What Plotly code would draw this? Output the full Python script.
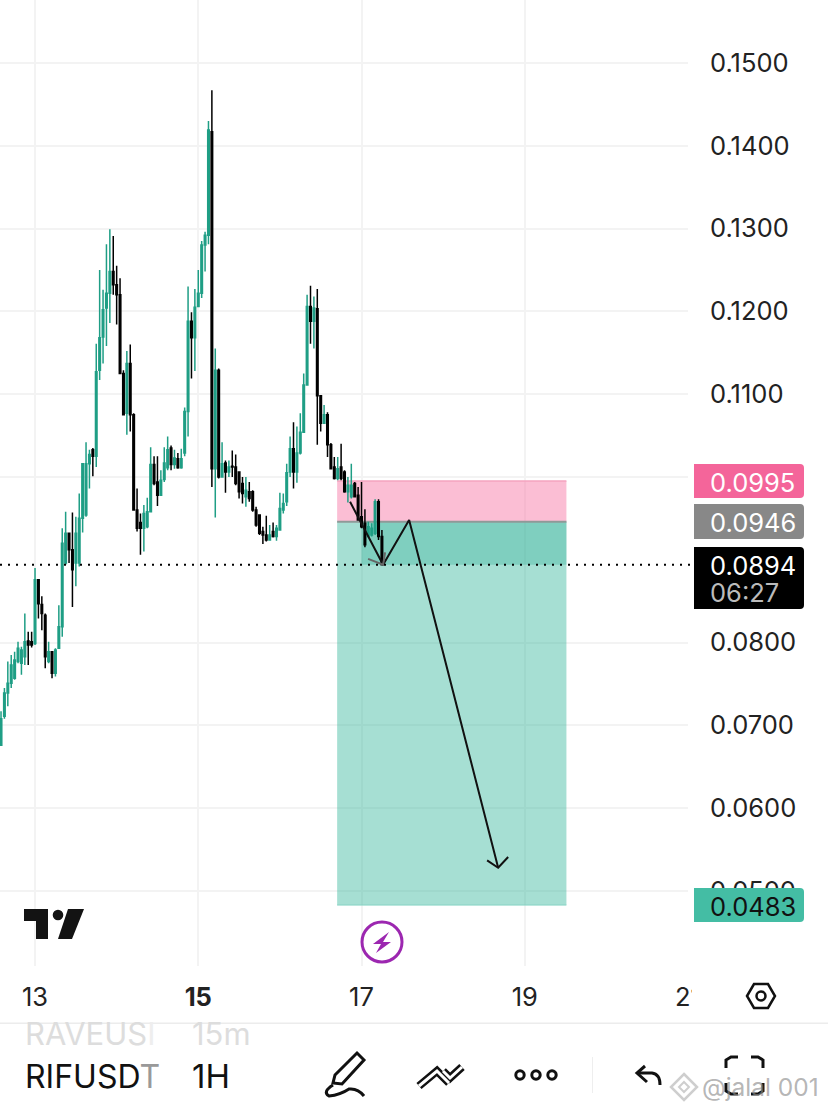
import pandas as pd
import plotly.graph_objects as go

# hourly candles
open_prices = [
    .0676, .0711, .0739, .0751, .0757, .0777, .0775, .0783, .0802, .0801, .0799, .0876, .0846, .0833, .0777, .0789,
    .0763, .0793, .0819, .0896, .0932, .0912, .0896, .0896, .0950, .0954, .1016, .1033, .1025, .1129, .1169, .1204,
    .1222, .1248, .1232, .1220, .1125, .1077, .1137, .1075, .0960, .0945, .0938, .0940, .0958, .1015, .0994, .0978,
    .0997, .1011, .1035, .1015, .1022, .1011, .1029, .1079, .1188, .1168, .1206, .1222, .1280, .1292, .1417, .1010,
    .1129, .1000, .1017, .1006, .1013, .1012, .1006, .0992, .0976, .0982, .0982, .0960, .0954, .0934, .0930, .0924,
    .0934, .0928, .0936, .0960, .0970, .1006, .1034, .1006, .1029, .1054, .1111, .1206, .1188, .1203, .1098, .1065,
    .1075, .1039, .1012, .0998, .1012, .1006, .0982, .0976, .0992, .0978, .0952, .0944, .0928, .0930, .0932, .0970,
    .0928,
]
high_prices = [
    .0717, .0745, .0777, .0785, .0789, .0801, .0795, .0835, .0813, .0813, .0890, .0876, .0856, .0835, .0801, .0789,
    .0793, .0845, .0938, .0958, .0932, .0957, .0952, .0980, .1017, .1042, .1033, .1035, .1161, .1250, .1226, .1281,
    .1299, .1291, .1255, .1240, .1129, .1152, .1160, .1077, .0986, .0956, .0966, .0975, .1036, .1025, .1025, .1008,
    .1036, .1049, .1038, .1033, .1029, .1034, .1084, .1230, .1199, .1227, .1250, .1285, .1296, .1430, .1467, .1155,
    .1131, .1042, .1020, .1020, .1032, .1027, .1006, .1000, .1000, .0994, .0984, .0964, .0955, .0940, .0953, .0942,
    .0945, .0942, .0981, .0980, .1016, .1049, .1066, .1061, .1077, .1125, .1220, .1231, .1218, .1227, .1098, .1087,
    .1078, .1041, .1024, .1024, .1040, .1008, .1000, .1016, .0994, .0988, .0994, .0961, .0946, .0944, .0973, .0973,
    .0936,
]
low_prices = [
    .0676, .0708, .0723, .0745, .0755, .0775, .0761, .0773, .0773, .0794, .0797, .0829, .0815, .0769, .0775, .0757,
    .0759, .0793, .0807, .0894, .0896, .0843, .0868, .0892, .0933, .0952, .0986, .1001, .1012, .1117, .1137, .1158,
    .1186, .1220, .1184, .1125, .1075, .1051, .1055, .0960, .0934, .0906, .0910, .0938, .0958, .0990, .0965, .0978,
    .0994, .1008, .1008, .1010, .1010, .1010, .1025, .1049, .1119, .1128, .1206, .1216, .1248, .1281, .0988, .0951,
    .0998, .1000, .0981, .1000, .1000, .0990, .0974, .0968, .0964, .0970, .0958, .0940, .0930, .0919, .0922, .0924,
    .0927, .0923, .0936, .0956, .0965, .1000, .0986, .0993, .1027, .1054, .1111, .1161, .1155, .1039, .1055, .1065,
    .1024, .1010, .0997, .0996, .0996, .0981, .0969, .0974, .0976, .0948, .0938, .0915, .0928, .0928, .0930, .0924,
    .0894,
]
close_prices = [
    .0708, .0739, .0751, .0773, .0779, .0793, .0791, .0801, .0797, .0797, .0876, .0847, .0835, .0783, .0789, .0763,
    .0791, .0819, .0920, .0932, .0912, .0888, .0932, .0950, .1016, .1016, .1027, .1025, .1127, .1168, .1202, .1222,
    .1248, .1232, .1220, .1125, .1075, .1137, .1075, .0960, .0938, .0938, .0956, .0958, .1015, .0992, .0978, .0996,
    .1017, .1033, .1015, .1023, .1011, .1022, .1079, .1188, .1168, .1205, .1222, .1280, .1292, .1419, .1010, .1129,
    .1000, .1016, .1006, .1012, .1012, .0992, .0982, .0980, .0984, .0974, .0960, .0942, .0932, .0930, .0924, .0930,
    .0928, .0938, .0962, .0968, .1005, .1034, .1006, .1029, .1054, .1111, .1206, .1188, .1204, .1098, .1065, .1075,
    .1039, .1010, .0998, .1010, .0998, .0982, .0990, .0990, .0976, .0948, .0940, .0918, .0940, .0938, .0970, .0928,
    .0894,
]
first_candle = "2025-10-12 14:00"

# 0.09 is not on the scale in the picture, the last price sits there
price_ticks = [.15, .14, .13, .12, .11, .10, .08, .07, .06, .05]
day_ticks = ["2025-10-13", "2025-10-15", "2025-10-17", "2025-10-19", "2025-10-21"]
day_labels = ["13", "<b>15</b>", "17", "19", "21"]

# short position tool
entry, stop, target, last_price = 0.0946, 0.0995, 0.0483, 0.0894
tool_start, tool_split, tool_end = "2025-10-16 16:50", "2025-10-17 00:00", "2025-10-19 12:15"

# hand drawn arrows
path_x = ["2025-10-16 20:38", "2025-10-17 06:21", "2025-10-17 14:00", "2025-10-18 16:11"]
path_y = [0.0970, 0.0894, 0.0948, 0.0528]
head_x = ["2025-10-18 12:56", "2025-10-18 16:11", "2025-10-18 19:07"]
head_y = [0.0537, 0.0528, 0.0541]
small_head_x = ["2025-10-17 01:56", "2025-10-17 06:21", "2025-10-17 06:56"]
small_head_y = [0.0901, 0.0894, 0.0909]

FONT = "Inter"
PLOT_W, PLOT_H = 688, 966


def px(x):
    return x / PLOT_W


def py(y):
    return 1 - y / PLOT_H


def path(points, close=False):
    d = "M" + " L".join(f"{px(x):.5f} {py(y):.5f}" for x, y in points)
    return d + (" Z" if close else "")


def badge(x0, x1, y0, y1, color):
    # square on the left, rounded on the right
    r = 4
    d = (
        f"M{px(x0):.5f} {py(y0):.5f} L{px(x1 - r):.5f} {py(y0):.5f} "
        f"Q{px(x1):.5f} {py(y0):.5f} {px(x1):.5f} {py(y0 + r):.5f} "
        f"L{px(x1):.5f} {py(y1 - r):.5f} "
        f"Q{px(x1):.5f} {py(y1):.5f} {px(x1 - r):.5f} {py(y1):.5f} "
        f"L{px(x0):.5f} {py(y1):.5f} Z"
    )
    return dict(type="path", xref="paper", yref="paper", path=d, fillcolor=color, line_width=0, layer="above")


def stroke(points, color="#111111", width=3, fill=None, close=False):
    return dict(
        type="path", xref="paper", yref="paper", path=path(points, close), layer="above",
        line=dict(color=color, width=width), fillcolor=fill,
    )


def circle(cx, cy, r, color="#111111", width=3, fill=None):
    return dict(
        type="circle", xref="paper", yref="paper", layer="above",
        x0=px(cx - r), x1=px(cx + r), y0=py(cy + r), y1=py(cy - r),
        line=dict(color=color, width=width), fillcolor=fill,
    )


def box(x0, x1, y0, y1, color):
    return dict(
        type="rect", xref="paper", yref="paper", layer="above",
        x0=px(x0), x1=px(x1), y0=py(y1), y1=py(y0), fillcolor=color, line_width=0,
    )


def label(text, x, y, size, color="#111111", xanchor="left"):
    return dict(
        text=text, xref="paper", yref="paper", x=px(x), y=py(y), xanchor=xanchor, yanchor="middle",
        showarrow=False, font=dict(family=FONT, size=size, color=color),
    )


times = pd.date_range(first_candle, periods=len(open_prices), freq="h")

fig = go.Figure()
fig.add_trace(
    go.Candlestick(
        x=times, open=open_prices, high=high_prices, low=low_prices, close=close_prices,
        increasing=dict(line=dict(color="#1f9e85", width=1.5), fillcolor="#1f9e85"),
        decreasing=dict(line=dict(color="#000000", width=1.5), fillcolor="#000000"),
        whiskerwidth=0,
    )
)
for xs, ys, color in [
    (path_x, path_y, "#111111"),
    (head_x, head_y, "#111111"),
    (small_head_x, small_head_y, "#666666"),
]:
    fig.add_trace(go.Scatter(x=xs, y=ys, mode="lines", line=dict(color=color, width=2)))

shapes = [
    # position tool
    dict(type="rect", x0=tool_start, x1=tool_end, y0=entry, y1=stop, layer="between",
         fillcolor="rgba(247,120,165,0.48)", line_width=0),
    dict(type="rect", x0=tool_start, x1=tool_end, y0=target, y1=entry, layer="between",
         fillcolor="rgba(48,180,152,0.43)", line_width=0),
    dict(type="rect", x0=tool_split, x1=tool_end, y0=last_price, y1=entry, layer="between",
         fillcolor="rgba(48,175,150,0.32)", line_width=0),
    dict(type="line", x0=tool_start, x1=tool_end, y0=stop, y1=stop, layer="between",
         line=dict(color="#f4a3bf", width=1.5)),
    dict(type="line", x0=tool_start, x1=tool_end, y0=entry, y1=entry, layer="between",
         line=dict(color="#8f9a98", width=2)),
    dict(type="line", x0=tool_start, x1=tool_end, y0=target, y1=target, layer="between",
         line=dict(color="#86d3c3", width=1)),
    # last price line
    dict(type="line", xref="paper", x0=0, x1=px(694), y0=last_price, y1=last_price, layer="above",
         line=dict(color="#000000", width=2, dash="2px,6px")),
    # covers the end of the clipped 21 label
    box(692, 828, 970, 1020, "#ffffff"),
    badge(694, 804, 464, 498, "#f4659a"),
    badge(694, 804, 504, 539, "#888888"),
    badge(694, 804, 547, 609, "#000000"),
    badge(694, 804, 888, 922, "#44bda4"),
    box(0, 828, 1022.6, 1024, "#ececec"),
    box(592, 593, 1057, 1093, "#eeeeee"),
    # TradingView mark
    stroke([(24, 909), (48, 909), (48, 939), (36, 939), (36, 921), (24, 921)], width=0, fill="#131313", close=True),
    circle(58, 915, 5.3, width=0, fill="#131313"),
    stroke([(68, 909), (84, 909), (72, 939), (58, 939)], width=0, fill="#131313", close=True),
    # purple flash marker
    circle(382, 942, 20, color="#9c27b0", width=3, fill="#ffffff"),
    stroke([(389, 932), (373, 944), (381, 944), (376, 953), (391, 942), (383, 942)], width=0, fill="#9c27b0", close=True),
    # settings hexagon
    stroke([(747, 996), (754, 984), (768, 984), (775, 996), (768, 1008), (754, 1008)], width=2.5, close=True),
    circle(761, 996, 4.5, width=2.5),
    # pen
    stroke([(357, 1053), (364, 1060), (342, 1084), (333, 1083), (335, 1075)], width=3, close=True),
    dict(type="path", xref="paper", yref="paper", layer="above", line=dict(color="#111111", width=3),
         path=f"M{px(333)} {py(1085)} Q{px(322)} {py(1092)} {px(329)} {py(1096)} "
              f"Q{px(340)} {py(1095)} {px(349)} {py(1089)} Q{px(358)} {py(1088)} {px(364)} {py(1096)}"),
    # trend tools icon
    stroke([(419, 1086), (437, 1071), (449, 1083)], width=8),
    stroke([(443, 1071), (450, 1078), (462, 1067)], width=8),
    stroke([(419, 1086), (437, 1071), (449, 1083)], color="#ffffff", width=3),
    stroke([(443, 1071), (450, 1078), (462, 1067)], color="#ffffff", width=3),
    # more
    circle(520, 1075, 4.2), circle(536, 1075, 4.2), circle(552, 1075, 4.2),
    # undo
    stroke([(645, 1066), (637, 1073), (647, 1082)]),
    dict(type="path", xref="paper", yref="paper", layer="above", line=dict(color="#111111", width=3),
         path=f"M{px(637)} {py(1073)} L{px(652)} {py(1073)} Q{px(660)} {py(1074)} {px(660)} {py(1085)}"),
    # fullscreen corners
    stroke([(726, 1068), (726, 1060), (731, 1057), (738, 1057)]),
    stroke([(751, 1057), (758, 1057), (763, 1060), (763, 1068)]),
    stroke([(726, 1083), (726, 1091), (731, 1094), (738, 1094)]),
    stroke([(751, 1094), (758, 1094), (763, 1091), (763, 1083)]),
    # watermark mark
    stroke([(684, 1074), (697, 1087), (684, 1100), (671, 1087)], color="rgba(190,190,190,0.75)", width=2.5, close=True),
    stroke([(684, 1082), (689, 1087), (684, 1092), (679, 1087)], color="rgba(190,190,190,0.75)", width=2, close=True),
]

annotations = [
    label("0.0995", 708, 482, 25.5, "#ffffff"),
    label("0.0946", 708, 522, 25.5, "#ffffff"),
    label("0.0894", 708, 565, 25.5, "#ffffff"),
    label("06:27", 708, 592, 25.5, "#bbbbbb"),
    label("0.0483", 708, 906, 25.5, "#111111"),
    label("RAVEUS<span style='color:#eeeeee'>I</span>", 23, 1033, 31, "#dddddd"),
    label("15m", 190, 1033, 31, "#dddddd"),
    label("RIFUSD<span style='color:#999999'>T</span>", 23, 1076, 32),
    label("1H", 190, 1076, 33),
    label("BTCUSD", 23, 1122, 29, "#dddddd"),
    label("1H", 190, 1122, 29, "#dddddd"),
    label("@jalal 001", 700, 1087, 24.5, "rgba(140,140,140,0.65)"),
]
# white strip clips the top of the faded row, kept just above the divider
annotations.append(
    dict(text=" ", xref="paper", yref="paper", x=px(0), y=py(1016), xanchor="left", yanchor="middle",
         showarrow=False, width=300, height=8, bgcolor="#ffffff", font=dict(size=8))
)

fig.update_layout(
    width=828,
    height=1112,
    margin=dict(l=0, r=828 - PLOT_W, t=0, b=1112 - PLOT_H),
    paper_bgcolor="#ffffff",
    plot_bgcolor="#ffffff",
    showlegend=False,
    boxgap=0.35,
    font=dict(family=FONT, size=25.5, color="#222222"),
    shapes=shapes,
    annotations=annotations,
    xaxis=dict(
        range=["2025-10-12 13:42", "2025-10-21 00:00"],
        tickvals=day_ticks, ticktext=day_labels, ticklabelstandoff=13,
        showgrid=True, gridcolor="#f3f3f3", gridwidth=2,
        zeroline=False, showline=False, ticks="",
        rangeslider=dict(visible=False),
    ),
    yaxis=dict(
        range=[0.04094, 0.1576], side="right",
        tickvals=price_ticks, tickformat=".4f", ticklabelstandoff=21,
        showgrid=True, gridcolor="#f3f3f3", gridwidth=2,
        zeroline=False, showline=False, ticks="",
    ),
)

fig.write_html("out.html", config={"displayModeBar": False}, post_script="document.body.style.margin='0'")
